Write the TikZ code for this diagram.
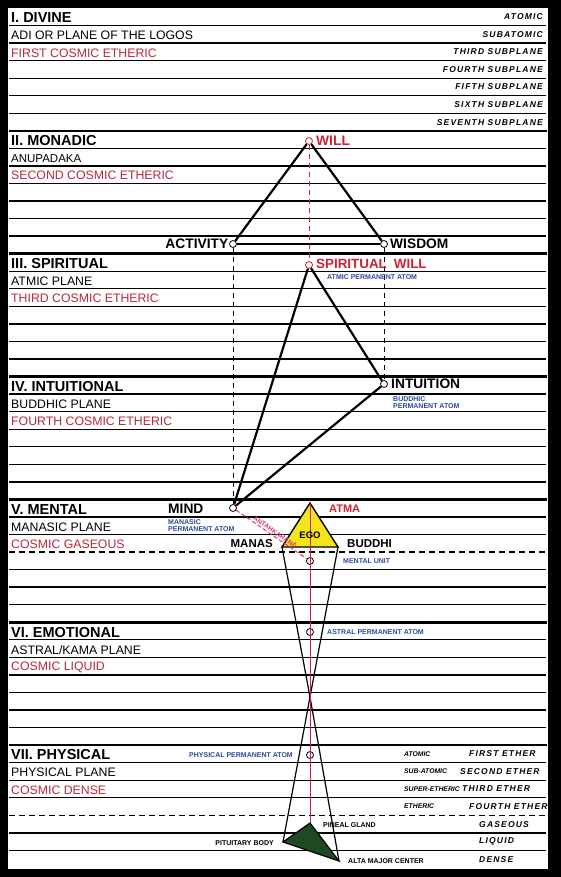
\documentclass[tikz,border=0pt]{standalone}
\usepackage{fontspec}
\setmainfont{Liberation Sans}
\newfontfamily\spacedit[LetterSpace=14]{Liberation Sans}
\definecolor{plred}{HTML}{B8283A}
\definecolor{wred}{HTML}{CC2233}
\definecolor{atblue}{HTML}{2A4A9A}
\definecolor{egoyel}{HTML}{F4E41C}
\definecolor{glgreen}{HTML}{1E4A22}
\definecolor{antpink}{HTML}{D83A6E}
\tikzset{
  title/.style={font=\fontsize{14.5}{15}\selectfont\bfseries, anchor=west, inner sep=0pt},
  sublab/.style={font=\fontsize{12.3}{13}\selectfont, anchor=west, inner sep=0pt},
  cosm/.style={sublab, text=plred},
  rlab/.style={font=\spacedit\fontsize{8.5}{9}\selectfont\bfseries\itshape, anchor=east, inner sep=0pt},
  elab/.style={font=\spacedit\fontsize{8.5}{9}\selectfont\bfseries\itshape, anchor=west, inner sep=0pt},
  slab/.style={font=\fontsize{6.8}{7}\selectfont\bfseries\itshape, anchor=west, inner sep=0pt},
  big/.style={font=\fontsize{13.8}{14}\selectfont\bfseries, inner sep=0pt},
  mid/.style={font=\fontsize{11.5}{12}\selectfont\bfseries, inner sep=0pt},
  atomlab/.style={font=\fontsize{7}{7.4}\selectfont\bfseries, text=atblue, inner sep=0pt, align=left},
  bodylab/.style={font=\fontsize{7}{7.6}\selectfont\bfseries, inner sep=0pt},
  dot/.style={circle, draw, inner sep=0pt, minimum size=7pt, line width=0.8pt},
  subline/.style={line width=1.35pt},
  planeline/.style={line width=2.6pt},
  dashline/.style={line width=1.3pt, dash pattern=on 6pt off 4pt},
  tri/.style={line width=2.2pt},
  vdash/.style={line width=0.8pt, dash pattern=on 5pt off 4pt},
  glass/.style={line width=1.2pt}
}
\begin{document}
\begin{tikzpicture}[x=1pt,y=-1pt]
\useasboundingbox (0,0) rectangle (561,877);
\fill[black] (0,0) rectangle (561,877);
\fill[white] (8,8) rectangle (548,869);

% subplane grid
\foreach \k in {1,...,6,8,9,10,11,12,13,15,16,17,18,19,20,22,23,24,25,26,27,29,30,32,33,34,36,37,38,39,40,41,43,44,45,47,48}
  \draw[subline] (9,{8+\k*17.55}) -- (546,{8+\k*17.55});
\foreach \k in {7,14,21,28,35,42}
  \draw[planeline] (9,{8+\k*17.55}) -- (547,{8+\k*17.55});
\foreach \k in {31,46}
  \draw[dashline] (9,{8+\k*17.55}) -- (547,{8+\k*17.55});

% left plane labels
\node[title] (t1) at (11,17.5) {I. DIVINE};
\node[sublab] (s1) at (11,35.3) {ADI OR PLANE OF THE LOGOS};
\node[cosm] (c1) at (11,52.9) {FIRST COSMIC ETHERIC};
\node[title] (t2) at (11,140.8) {II. MONADIC};
\node[sublab,font=\fontsize{11.5}{12}\selectfont] (s2) at (11,158.2) {ANUPADAKA};
\node[cosm] (c2) at (11,175.7) {SECOND COSMIC ETHERIC};
\node[title] (t3) at (11,263.5) {III. SPIRITUAL};
\node[sublab] (s3) at (11,281.1) {ATMIC PLANE};
\node[cosm] (c3) at (11,298.6) {THIRD COSMIC ETHERIC};
\node[title] (t4) at (11,386.4) {IV. INTUITIONAL};
\node[sublab] (s4) at (11,403.9) {BUDDHIC PLANE};
\node[cosm] (c4) at (11,421.5) {FOURTH COSMIC ETHERIC};
\node[title] (t5) at (11,509.2) {V. MENTAL};
\node[sublab] (s5) at (11,526.8) {MANASIC PLANE};
\node[cosm] (c5) at (11,544.3) {COSMIC GASEOUS};
\node[title] (t6) at (11,632.1) {VI. EMOTIONAL};
\node[sublab] (s6) at (11,649.6) {ASTRAL/KAMA PLANE};
\node[cosm] (c6) at (11,667.2) {COSMIC LIQUID};
\node[title] (t7) at (11,754.9) {VII. PHYSICAL};
\node[sublab] (s7) at (11,772.5) {PHYSICAL PLANE};
\node[cosm] (c7) at (11,790.0) {COSMIC DENSE};

% right divine labels
\node[rlab] (r1) at (543,16.8) {ATOMIC};
\node[rlab] (r2) at (543,34.3) {SUBATOMIC};
\node[rlab] (r3) at (543,51.9) {THIRD SUBPLANE};
\node[rlab] (r4) at (543,69.4) {FOURTH SUBPLANE};
\node[rlab] (r5) at (543,87.0) {FIFTH SUBPLANE};
\node[rlab] (r6) at (543,104.5) {SIXTH SUBPLANE};
\node[rlab] (r7) at (543,122.1) {SEVENTH SUBPLANE};

% right physical labels
\node[slab] (p1) at (404,754) {ATOMIC};
\node[slab] (p2) at (404,771.5) {SUB-ATOMIC};
\node[slab] (p3) at (404,789) {SUPER-ETHERIC};
\node[slab] (p4) at (404,806.6) {ETHERIC};
\node[elab] (e1) at (469,754) {FIRST ETHER};
\node[elab] (e2) at (460,771.5) {SECOND ETHER};
\node[elab] (e3) at (462,789) {THIRD ETHER};
\node[elab] (e4) at (469,806.6) {FOURTH ETHER};
\node[elab] (e5) at (479,824.1) {GASEOUS};
\node[elab] (e6) at (479,841.7) {LIQUID};
\node[elab] (e7) at (479,859.2) {DENSE};

% points
\node[dot,draw=wred] (will) at (309,141) {};
\node[dot] (act) at (233,244) {};
\node[dot] (wis) at (384,244) {};
\node[dot,draw=wred] (sw) at (309,265) {};
\node[dot] (intu) at (384,384) {};
\node[dot] (mind) at (233,508) {};
\coordinate (atma) at (310,503);
\coordinate (manas) at (282,547);
\coordinate (buddhi) at (338,547);
\node[dot] (mu) at (310,561) {};
\node[dot] (ast) at (310,632) {};
\coordinate (waist) at (310,697);
\node[dot] (ppa) at (310,755) {};
\coordinate (pineal) at (310,823);
\coordinate (pit) at (283,842);
\coordinate (alta) at (339,861);

% dashed verticals
\draw[vdash,wred] (will) -- (sw);
\draw[vdash] (act) -- (mind);
\draw[vdash] (wis) -- (intu);

% monadic triangle
\draw[tri] (will) -- (act);
\draw[tri] (will) -- (wis);
\draw[tri] (act) -- (wis);
% triad
\draw[tri] (sw) -- (intu);
\draw[tri] (sw) -- (mind);
\draw[tri] (intu) -- (mind);

% hourglass
\draw[glass] (manas) -- (waist);
\draw[glass] (buddhi) -- (waist);
\draw[glass] (waist) -- (pit);
\draw[glass] (waist) -- (alta);

% ego triangle
\filldraw[fill=egoyel, line width=1.4pt, line join=miter] (atma) -- (manas) -- (buddhi) -- cycle;
% red sutratma line
\draw[wred, line width=0.7pt] (atma) -- (pineal);
% glands triangle
\filldraw[fill=glgreen, line width=1.2pt] (pineal) -- (pit) -- (alta) -- cycle;

% antahkarana
\draw[antpink, line width=1pt, dash pattern=on 4pt off 2.5pt] (mind) -- node[sloped, above=1.2pt, pos=0.52, inner sep=0pt, font=\fontsize{6.6}{7}\selectfont\bfseries, text=antpink] (antk) {ANTAHKARANA} (mu);

% labels
\node[big, text=wred, anchor=west] (willl) at (316,141) {WILL};
\node[big, anchor=east] (actl) at (228.5,244) {ACTIVITY};
\node[big, anchor=west] (wisl) at (390,244) {WISDOM};
\node[big, text=wred, anchor=west, font=\fontsize{13.4}{14}\selectfont\bfseries] (swl) at (316,264) {SPIRITUAL\hspace{7pt}WILL};
\node[atomlab, anchor=west] (swa) at (327,277) {ATMIC PERMANENT ATOM};
\node[big, anchor=west] (intl) at (391,384) {INTUITION};
\node[atomlab, anchor=north west] (inta) at (393,396) {BUDDHIC\\PERMANENT ATOM};
\node[big, anchor=west] (mindl) at (168,509) {MIND};
\node[atomlab, anchor=north west] (minda) at (168,519.5) {MANASIC\\PERMANENT ATOM};
\node[mid, text=wred, anchor=west, font=\fontsize{11}{12}\selectfont\bfseries] (atmal) at (329,509) {ATMA};
\node[mid, anchor=east] (manasl) at (273,543.5) {MANAS};
\node[mid, anchor=west] (buddhil) at (347,543.5) {BUDDHI};
\node[font=\fontsize{9.5}{10}\selectfont\bfseries, inner sep=0pt] (ego) at (310,535) {EGO};
\node[atomlab, anchor=west] (mul) at (343,561) {MENTAL UNIT};
\node[atomlab, anchor=west] (astl) at (327,632) {ASTRAL PERMANENT ATOM};
\node[atomlab, anchor=east] (ppal) at (293,755) {PHYSICAL PERMANENT ATOM};
\node[bodylab, anchor=west] (pinl) at (323,825) {PINEAL GLAND};
\node[bodylab, anchor=east] (pitl) at (274,843) {PITUITARY BODY};
\node[bodylab, anchor=west] (altal) at (348,861) {ALTA MAJOR CENTER};
\end{tikzpicture}
\end{document}
